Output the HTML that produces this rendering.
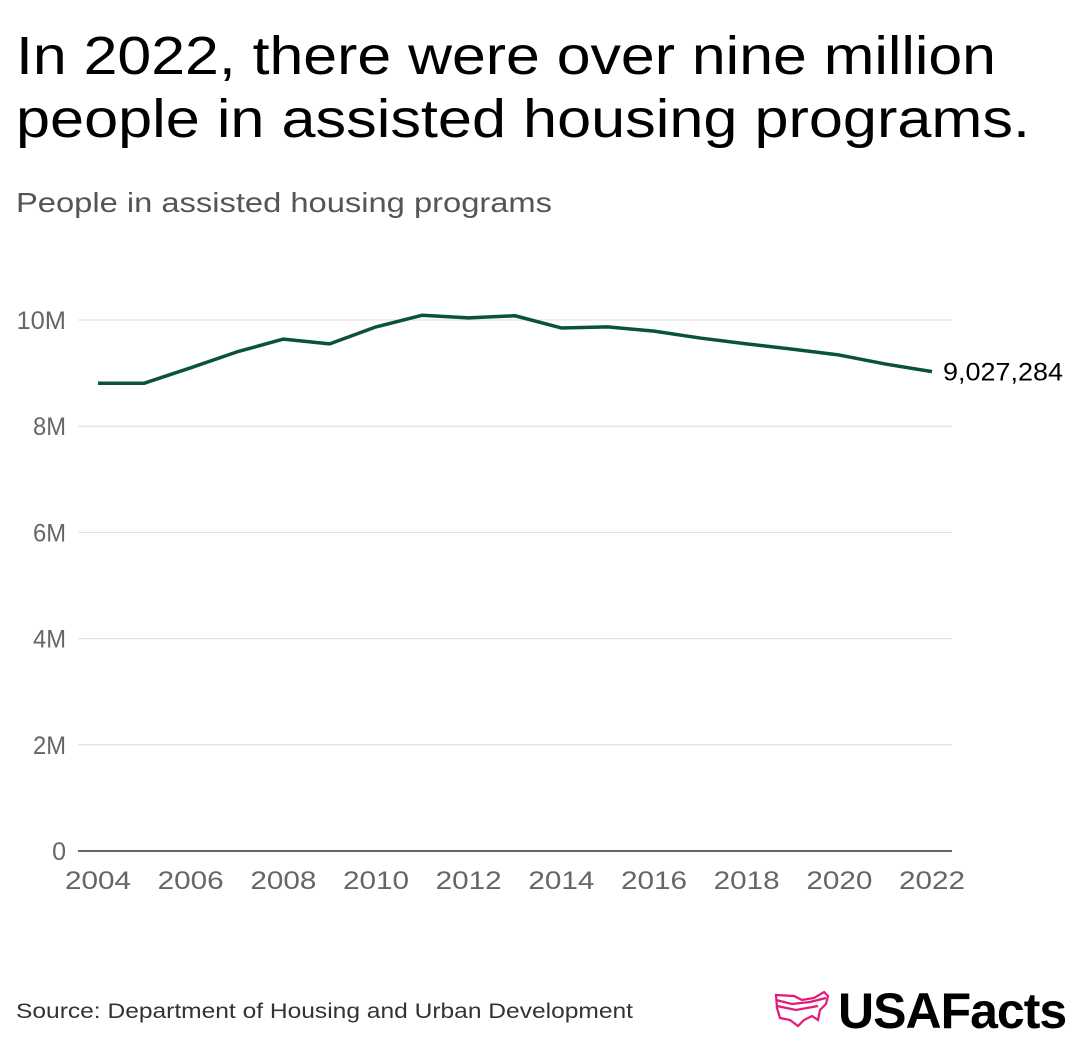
<!DOCTYPE html>
<html><head><meta charset="utf-8"><style>
body{margin:0;width:1080px;height:1046px;background:#fff;font-family:"Liberation Sans",sans-serif;overflow:hidden;position:relative}
.logo{position:absolute;left:838px;top:982px;font-size:50px;font-weight:bold;color:#000;letter-spacing:-1px}
</style></head><body>
<svg id="chart" width="1080" height="1046" style="position:absolute;left:0;top:0" font-family="Liberation Sans">
<text x="16" y="74" font-size="54" fill="#000" textLength="980" lengthAdjust="spacingAndGlyphs">In 2022, there were over nine million</text>
<text x="16" y="137" font-size="54" fill="#000" textLength="1014" lengthAdjust="spacingAndGlyphs">people in assisted housing programs.</text>
<text x="16" y="212" font-size="28" fill="#555" textLength="536" lengthAdjust="spacingAndGlyphs">People in assisted housing programs</text>
<text x="16" y="1018" font-size="21" fill="#333" textLength="617" lengthAdjust="spacingAndGlyphs">Source: Department of Housing and Urban Development</text>
</svg>
<svg style="position:absolute;left:774px;top:990px" width="58" height="40" viewBox="0 0 58 40"><path d="M2 5 L20 6 L28 10 L40 8 L50 2 L54 6 L52 14 L46 20 L44 30 L38 26 L30 30 L24 36 L16 30 L6 28 L3 18 Z M2 10 L18 14 L36 12 L52 8 M3 16 L22 20 L44 16" fill="none" stroke="#e4197a" stroke-width="2.2"/></svg>
<div class="logo">USAFacts</div>
<script>
const years=[2004,2005,2006,2007,2008,2009,2010,2011,2012,2013,2014,2015,2016,2017,2018,2019,2020,2021,2022];
const values=[8.81,8.81,9.10,9.40,9.64,9.55,9.87,10.09,10.04,10.08,9.85,9.87,9.79,9.66,9.55,9.45,9.34,9.17,9.027284];
const yTicks=[0,2,4,6,8,10];
const yTickLabels=["0","2M","4M","6M","8M","10M"];
const xTicks=[2004,2006,2008,2010,2012,2014,2016,2018,2020,2022];
const endLabel="9,027,284";
const svg=document.getElementById('chart');const NS='http://www.w3.org/2000/svg';
const x=v=>98+(v-2004)*(932-98)/18;
const y=v=>851-v*53.1;
function mk(t,a){const e=document.createElementNS(NS,t);for(const k in a)e.setAttribute(k,a[k]);svg.appendChild(e);return e;}
yTicks.forEach((t,i)=>{
 if(t>0){const l=mk('line',{x1:78,x2:952,y1:y(t),y2:y(t),stroke:'#ddd','stroke-width':1});
 
 }
 const lab=yTickLabels[i];
 const a={x:66,y:y(t)+9,'text-anchor':'end','font-size':25,fill:'#666'};
 if(lab.length>1){a.textLength=lab.length*16.5;a.lengthAdjust='spacingAndGlyphs';}
 const tx=mk('text',a);
 tx.textContent=lab;
 
 
});
const ax=mk('line',{x1:78,x2:952,y1:851,y2:851,stroke:'#333','stroke-width':1.5});


xTicks.forEach(t=>{
 const tx=mk('text',{x:x(t),y:889,'text-anchor':'middle','font-size':25,fill:'#666',textLength:66,lengthAdjust:'spacingAndGlyphs'});
 tx.textContent=t;
 
 
});
const p=mk('path',{d:years.map((yr,i)=>(i?'L':'M')+x(yr)+' '+y(values[i])).join(' '),fill:'none',stroke:'#0b5140','stroke-width':3.5,'stroke-linejoin':'round'});


const n=years.length-1;
const el=mk('text',{x:x(years[n])+11,y:y(values[n])+9,'font-size':25,fill:'#000',textLength:120,lengthAdjust:'spacingAndGlyphs'});
el.textContent=endLabel;


</script>
</body></html>
